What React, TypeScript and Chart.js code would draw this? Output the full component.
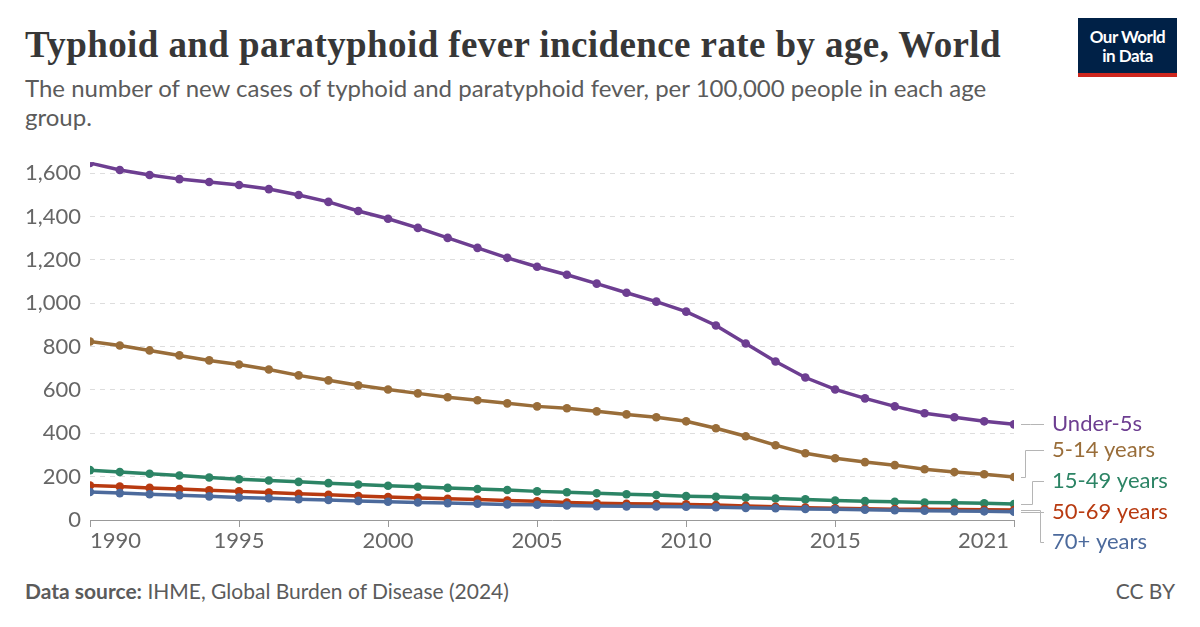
import React, { useEffect, useRef } from "react";
import { Chart, registerables } from "chart.js";

Chart.register(...registerables);

const years: number[] = [
  1990, 1991, 1992, 1993, 1994, 1995, 1996, 1997, 1998, 1999, 2000, 2001, 2002, 2003, 2004, 2005,
  2006, 2007, 2008, 2009, 2010, 2011, 2012, 2013, 2014, 2015, 2016, 2017, 2018, 2019, 2020, 2021,
];

const under5: number[] = [
  1646, 1614, 1591, 1572, 1559, 1545, 1526, 1499, 1467, 1425, 1389, 1347, 1301, 1255, 1209, 1168,
  1131, 1090, 1048, 1007, 961, 897, 814, 731, 657, 602, 561, 524, 492, 474, 455, 441,
];

const age5to14: number[] = [
  823, 805, 782, 759, 736, 717, 694, 667, 644, 621, 602, 584, 566, 552, 538, 524,
  515, 501, 487, 474, 455, 423, 386, 345, 308, 285, 267, 253, 234, 221, 211, 198,
];

const age15to49: number[] = [
  230, 221, 213, 205, 196, 188, 182, 176, 170, 164, 158, 153, 148, 143, 138, 132,
  128, 123, 119, 115, 110, 107, 103, 99, 95, 90, 87, 84, 81, 79, 77, 74,
];

const age50to69: number[] = [
  159, 154, 148, 143, 137, 132, 127, 121, 116, 111, 106, 102, 98, 94, 90, 86,
  81, 77, 75, 74, 72, 69, 65, 61, 57, 54, 52, 50, 49, 48, 47, 46,
];

const age70plus: number[] = [
  129, 124, 119, 114, 109, 104, 100, 96, 92, 88, 84, 81, 78, 75, 72, 70,
  67, 64, 63, 62, 61, 59, 56, 54, 51, 49, 47, 45, 43, 41, 40, 38,
];

const seriesNames: string[] = ["Under-5s", "5-14 years", "15-49 years", "50-69 years", "70+ years"];
const seriesColors: string[] = ["#6d3e91", "#996d39", "#2c8465", "#b83a10", "#4c6a9c"];
const xTicks: number[] = [1990, 1995, 2000, 2005, 2010, 2015, 2021];
const yTicks: number[] = [0, 200, 400, 600, 800, 1000, 1200, 1400, 1600];

const CANVAS_TOP = 140;
const LABEL_Y = [424, 450, 481, 512, 542];
const ELBOW_X = [1030, 1025, 1032, 1040, 1040];

const endLabels = {
  id: "endLabels",
  afterDatasetsDraw(chart: any) {
    const ctx = chart.ctx as CanvasRenderingContext2D;
    const xs = chart.scales.x;
    const ys = chart.scales.y;
    const x0 = xs.getPixelForValue(years[years.length - 1]);
    ctx.save();
    chart.data.datasets.forEach((ds: any, i: number) => {
      const pts = ds.data;
      const last = pts[pts.length - 1].y;
      const py = ys.getPixelForValue(last);
      const ly = LABEL_Y[i] - CANVAS_TOP;
      const ex = ELBOW_X[i];
      ctx.strokeStyle = "#b5b5b5";
      ctx.lineWidth = 1;
      ctx.beginPath();
      ctx.moveTo(x0 + 7, Math.round(py) + 0.5);
      ctx.lineTo(ex + 0.5, Math.round(py) + 0.5);
      ctx.lineTo(ex + 0.5, Math.round(ly) + 0.5);
      ctx.lineTo(1044, Math.round(ly) + 0.5);
      ctx.stroke();
      ctx.fillStyle = seriesColors[i];
      ctx.font = "22px Lato";
      ctx.textBaseline = "middle";
      ctx.textAlign = "left";
      ctx.fillText(seriesNames[i], 1052, ly);
    });
    // x-axis tick labels (first left-aligned, last right-aligned, others centred)
    ctx.fillStyle = "#666";
    ctx.font = "22px Lato";
    ctx.textBaseline = "middle";
    const yLab = 541 - CANVAS_TOP;
    xTicks.forEach((v, k) => {
      const px = xs.getPixelForValue(v);
      ctx.textAlign = k === 0 ? "left" : k === xTicks.length - 1 ? "right" : "center";
      const dx = k === 0 ? 0 : k === xTicks.length - 1 ? -5 : 0;
      ctx.fillText(String(v), px + dx, yLab);
    });
    ctx.restore();
  },
};

export default function App() {
  const ref = useRef<HTMLCanvasElement | null>(null);

  useEffect(() => {
    if (!ref.current) return;
    const allSeries = [under5, age5to14, age15to49, age50to69, age70plus];
    const drawOrder = [4, 3, 2, 1, 0];
    const chart = new Chart(ref.current, {
      type: "line",
      data: {
        datasets: allSeries.map((vals, i) => ({
          label: seriesNames[i],
          data: vals.map((v, j) => ({ x: years[j], y: v })),
          borderColor: seriesColors[i],
          backgroundColor: seriesColors[i],
          borderWidth: 3.5,
          pointRadius: 4.3,
          pointBorderWidth: 0,
          pointBackgroundColor: seriesColors[i],
          tension: 0,
          order: drawOrder[i],
        })),
      },
      options: {
        animation: false,
        responsive: false,
        maintainAspectRatio: false,
        layout: { padding: { top: 21, right: 186, left: 0, bottom: 0 } },
        plugins: {
          legend: { display: false },
          tooltip: { enabled: false },
        },
        scales: {
          x: {
            type: "linear",
            min: 1990,
            max: 2021,
            afterBuildTicks: (axis: any) => {
              axis.ticks = xTicks.map((v) => ({ value: v }));
            },
            afterFit: (axis: any) => {
              axis.height = 40;
            },
            grid: {
              drawOnChartArea: false,
              drawTicks: true,
              tickLength: 7,
              color: "#999",
            },
            border: { display: true, color: "#999", width: 1 },
            ticks: {
              color: "rgba(0,0,0,0)",
              font: { family: "Lato", size: 22 },
              padding: 2,
              maxRotation: 0,
              autoSkip: false,
              callback: () => "",
            },
          },
          y: {
            type: "linear",
            min: 0,
            max: 1650,
            afterBuildTicks: (axis: any) => {
              axis.ticks = yTicks.map((v) => ({ value: v }));
            },
            afterFit: (axis: any) => {
              axis.width = 90;
            },
            grid: {
              drawTicks: false,
              color: (c: any) => (c.tick && c.tick.value === 0 ? "rgba(0,0,0,0)" : "#dddddd"),
              lineWidth: 1,
            },
            border: { display: false, dash: [5, 5] },
            ticks: {
              color: "#666",
              font: { family: "Lato", size: 22 },
              padding: 9,
              callback: (v: any) => Number(v).toLocaleString("en-US"),
            },
          },
        },
      },
      plugins: [endLabels],
    } as any);
    return () => chart.destroy();
  }, []);

  return (
    <div
      style={{
        position: "fixed",
        left: 0,
        top: 0,
        width: 1200,
        height: 627,
        background: "#fff",
        fontFamily: "Lato, sans-serif",
        overflow: "hidden",
      }}
    >
      <div
        style={{
          position: "absolute",
          left: 25,
          top: 23,
          fontFamily: "'Liberation Serif', 'DejaVu Serif', serif",
          fontWeight: 700,
          fontSize: 37,
          lineHeight: "44px",
          color: "#373737",
          whiteSpace: "nowrap",
          letterSpacing: 0.4,
        }}
      >
        Typhoid and paratyphoid fever incidence rate by age, World
      </div>
      <div
        style={{
          position: "absolute",
          left: 25,
          top: 73,
          width: 1040,
          fontSize: 24,
          lineHeight: "29px",
          color: "#5b5b5b",
        }}
      >
        The number of new cases of typhoid and paratyphoid fever, per 100,000 people in each age
        <br />
        group.
      </div>
      <div
        style={{
          position: "absolute",
          left: 1078,
          top: 18,
          width: 99,
          height: 59,
          background: "#002147",
          borderBottom: "4px solid #ce261e",
          boxSizing: "border-box",
          color: "#fff",
          fontWeight: 700,
          fontSize: 17,
          lineHeight: "19px",
          textAlign: "center",
          paddingTop: 9,
          letterSpacing: -0.5,
        }}
      >
        Our World
        <br />
        in Data
      </div>
      <canvas
        ref={ref}
        width={1200}
        height={420}
        style={{ position: "absolute", left: 0, top: CANVAS_TOP, width: 1200, height: 420 }}
      />
      <div
        style={{
          position: "absolute",
          left: 25,
          top: 578,
          fontSize: 21,
          lineHeight: "26px",
          color: "#5b5b5b",
          whiteSpace: "nowrap",
        }}
      >
        <b>Data source:</b> IHME, Global Burden of Disease (2024)
      </div>
      <div
        style={{
          position: "absolute",
          right: 25,
          top: 578,
          fontSize: 21,
          lineHeight: "26px",
          color: "#5b5b5b",
        }}
      >
        CC BY
      </div>
    </div>
  );
}
